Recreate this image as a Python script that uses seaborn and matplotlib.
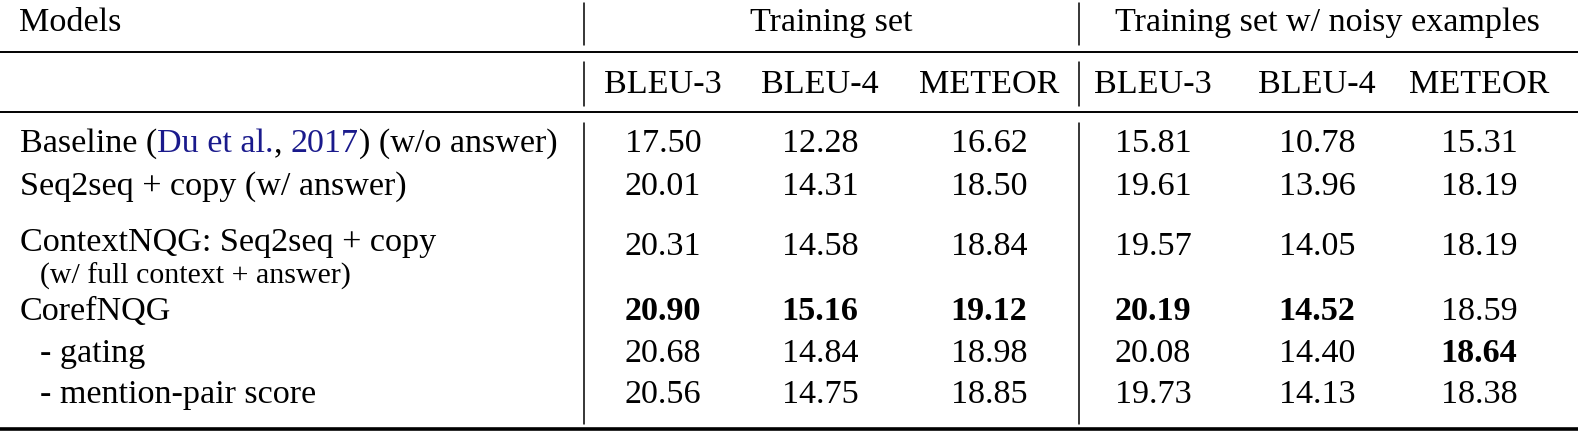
import matplotlib
matplotlib.use("Agg")
import matplotlib.pyplot as plt
import seaborn as sns
import pandas as pd

# table content
groups = ["Training set", "Training set w/ noisy examples"]
metrics = ["BLEU-3", "BLEU-4", "METEOR"]
models = ["Baseline", "Seq2seq + copy (w/ answer)", "ContextNQG: Seq2seq + copy",
          "CorefNQG", "- gating", "- mention-pair score"]
context_note = "(w/ full context + answer)"
train_scores = [
    [17.50, 12.28, 16.62],
    [20.01, 14.31, 18.50],
    [20.31, 14.58, 18.84],
    [20.90, 15.16, 19.12],
    [20.68, 14.84, 18.98],
    [20.56, 14.75, 18.85],
]
noisy_scores = [
    [15.81, 10.78, 15.31],
    [19.61, 13.96, 18.19],
    [19.57, 14.05, 18.19],
    [20.19, 14.52, 18.59],
    [20.08, 14.40, 18.64],
    [19.73, 14.13, 18.38],
]
# best results (row index, column index over the 6 score columns)
bold_cells = [(3, 0), (3, 1), (3, 2), (3, 3), (3, 4), (4, 5)]

sns.set_theme(style="white")
plt.rcParams["font.family"] = ["Liberation Serif", "DejaVu Serif"]
plt.rcParams["text.color"] = "black"

W, H = 1578, 436
fig = plt.figure(figsize=(W / 100, H / 100), dpi=100)
ax = fig.add_axes([0, 0, 1, 1])
ax.set_xlim(0, W)
ax.set_ylim(H, 0)
ax.axis("off")

FS = 24.6
link = "#1a1a8c"

col_x = [663, 820, 989, 1153, 1317, 1479]
group_x = [831, 1327]
row_y = [152, 195, 255, 320, 362, 403]   # baselines
sep_x = [584, 1079]

# rules
ax.plot([0, W], [52, 52], color="black", lw=1.4)
ax.plot([0, W], [112, 112], color="black", lw=1.4)
ax.plot([0, W], [429, 429], color="black", lw=2.6)
for x in sep_x:
    ax.plot([x, x], [3, 45], color="black", lw=1.1)
    ax.plot([x, x], [62, 106], color="black", lw=1.1)
    ax.plot([x, x], [123, 424], color="black", lw=1.1)

# header
ax.text(19, 31, "Models", fontsize=FS, va="baseline", ha="left")
for gx, g in zip(group_x, groups):
    ax.text(gx, 31, g, fontsize=FS, va="baseline", ha="center")
for i, m in enumerate(metrics * 2):
    ax.text(col_x[i], 93, m, fontsize=FS, va="baseline", ha="center")

# model names
t = ax.text(20, row_y[0], "Baseline (", fontsize=FS, va="baseline", ha="left")
t = ax.annotate("Du et al.", xy=(1, row_y[0]), xycoords=(t, "data"),
                va="baseline", ha="left", fontsize=FS, color=link)
t = ax.annotate(",", xy=(1, row_y[0]), xycoords=(t, "data"),
                va="baseline", ha="left", fontsize=FS)
t = ax.annotate("2017", xy=(1, row_y[0]), xycoords=(t, "data"), xytext=(6, 0),
                textcoords="offset points", va="baseline", ha="left",
                fontsize=FS, color=link)
ax.annotate(") (w/o answer)", xy=(1, row_y[0]), xycoords=(t, "data"),
            va="baseline", ha="left", fontsize=FS)

ax.text(20, row_y[1], models[1], fontsize=FS, va="baseline", ha="left")
ax.text(20, 251, models[2], fontsize=FS, va="baseline", ha="left")
ax.text(40, 284, context_note, fontsize=21.5, va="baseline", ha="left")
ax.text(20, row_y[3], models[3], fontsize=FS, va="baseline", ha="left")
ax.text(40, row_y[4], models[4], fontsize=FS, va="baseline", ha="left")
ax.text(40, row_y[5], models[5], fontsize=FS, va="baseline", ha="left")

# scores
scores = pd.concat([pd.DataFrame(train_scores), pd.DataFrame(noisy_scores)],
                   axis=1, ignore_index=True)
for r in range(len(models)):
    for c in range(scores.shape[1]):
        bold = (r, c) in bold_cells
        ax.text(col_x[c], row_y[r], f"{scores.iat[r, c]:.2f}", fontsize=FS,
                va="baseline", ha="center", fontweight="bold" if bold else "normal")

fig.savefig("out.png", dpi=100)
